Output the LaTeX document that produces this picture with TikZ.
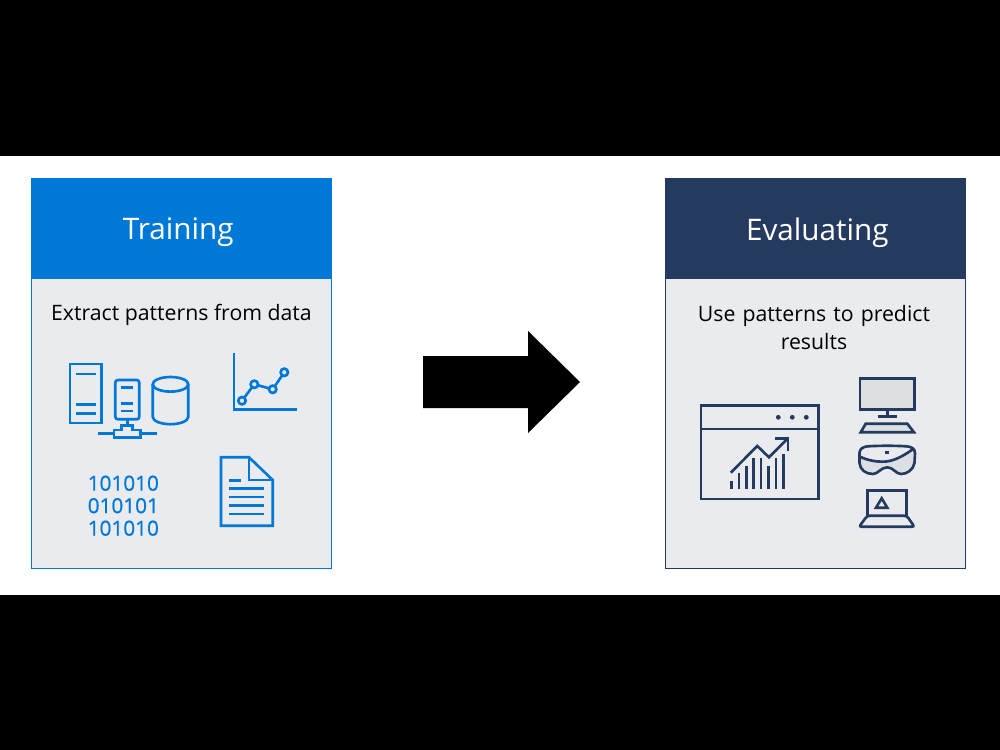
\documentclass[tikz,border=0pt]{standalone}
\usepackage{fontspec}
\setmainfont{Open Sans}
\usetikzlibrary{positioning}
\definecolor{trainblue}{HTML}{0078D7}
\definecolor{evalnavy}{HTML}{243A5E}
\definecolor{bodygrey}{HTML}{E9EBEF}
\definecolor{screengrey}{HTML}{DCE0E2}
\tikzstyle{header} = [rectangle, minimum width=6.02cm, minimum height=2.02cm, inner sep=0pt, text=white, text depth=0pt, font=\fontsize{16.9}{20}\selectfont, anchor=north west]
\tikzstyle{bodybox} = [rectangle, minimum width=6cm, minimum height=5.8cm, inner sep=0pt, fill=bodygrey, line width=0.6pt, anchor=north west]
\tikzstyle{caption} = [font=\fontsize{12.1}{16.2}\selectfont, align=center, text=black]
\tikzstyle{blueicon} = [draw=trainblue, line width=1.5pt]
\tikzstyle{navyicon} = [draw=evalnavy, line width=1.5pt]

\begin{document}
\begin{tikzpicture}[x=0.02cm, y=-0.02cm]
    \useasboundingbox (0,0) rectangle (1000,750);
    \fill[white] (0,0) rectangle (1000,750);
    \fill[black] (0,0) rectangle (1000,156);
    \fill[black] (0,595) rectangle (1000,750);

    % boxes
    \node (trainbody) [bodybox, draw=trainblue] at (31.2,278) {};
    \node (training) [header, fill=trainblue] at (31,178) {\hspace*{-0.14cm}Training};
    \node (evalbody) [bodybox, draw=evalnavy] at (665.2,278) {};
    \node (evaluating) [header, fill=evalnavy] at (665,178) {\hspace*{0.06cm}Evaluating};
    \node (traintext) [caption] at (181.5,314.5) {Extract patterns from data};
    \node (evaltext) [caption, text width=5.2cm] at (814,327.5) {Use patterns to predict\\ results};

    % big arrow
    \fill[black] (423,356) -- (528,356) -- (528,331) -- (580,382) -- (528,433) -- (528,408) -- (423,408) -- cycle;

    % servers
    \draw[blueicon] (70,364) rectangle (101.7,423);
    \draw[blueicon] (76,374) -- (95.7,374) (76,404.7) -- (95.7,404.7) (76,413.3) -- (95.7,413.3);
    \draw[blueicon, rounded corners=1.5pt] (115.3,380) rectangle (139.3,419.3);
    \draw[blueicon] (121,387.7) -- (133.3,387.7) (121,403.3) -- (133.3,403.3) (121,411) -- (133.3,411);
    \draw[blueicon] (127.3,419.3) -- (127.3,425.3);
    \draw[blueicon] (114,437.7) -- (140.7,437.7) -- (140.7,430) -- (132.7,430) -- (132.7,425.3) -- (121.7,425.3) -- (121.7,430) -- (114,430) -- cycle;
    \draw[blueicon] (98.3,433.7) -- (114,433.7) (140.7,433.7) -- (156.7,433.7);

    % cylinder
    \draw[blueicon] (170.5,384.3) ellipse [x radius=17.8, y radius=7.3];
    \draw[blueicon] (152.7,384.3) -- (152.7,416.7) .. controls (152.7,421.5) and (162,424.2) .. (170.5,424.2) .. controls (179,424.2) and (188.3,421.5) .. (188.3,416.7) -- (188.3,384.3);

    % line chart
    \draw[blueicon] (234,353.3) -- (234,409.3) -- (296.7,409.3);
    \draw[blueicon] (242,400.7) -- (254.3,384.3) -- (272.7,389.3) -- (284.3,372.3);
    \foreach \px/\py in {242/400.7, 254.3/384.3, 272.7/389.3, 284.3/372.3}
        \draw[blueicon, fill=bodygrey] (\px,\py) circle [radius=3.7];

    % binary digits
    \node (binary) [text=trainblue, font=\fontsize{11.8}{12.8}\selectfont\addfontfeature{FakeBold=0.6}, align=center, inner sep=0pt] at (123.3,505.7) {101010\\010101\\101010};

    % document
    \draw[blueicon] (221,457.3) -- (249,457.3) -- (272.7,480) -- (272.7,525.7) -- (221,525.7) -- cycle;
    \draw[blueicon] (249,457.3) -- (249,480) -- (272.7,480);
    \draw[blueicon] (229.3,480.3) -- (241,480.3);
    \draw[blueicon] (229.3,488.7) -- (264,488.7) (229.3,497) -- (264,497) (229.3,505.7) -- (264,505.7) (229.3,514) -- (264,514);

    % window with trend
    \draw[navyicon] (701,405.7) rectangle (818.3,499);
    \draw[navyicon] (701,429) -- (818.3,429);
    \foreach \px in {778.3, 792.3, 806.3}
        \fill[evalnavy] (\px,417.3) circle [radius=2.4];
    \draw[navyicon] (730.7,472.7) -- (757.3,446) -- (769,457.3) -- (787.3,439);
    \draw[navyicon] (775,438.3) -- (788,438.3) -- (788,451);
    \foreach \px/\py in {731.7/480.7, 739/473.3, 746.3/465.7, 753.7/458.3, 761/458.3, 768.7/465.7, 776/458.3, 783.3/454.3}
        \draw[navyicon] (\px,\py) -- (\px,489.3);

    % monitor
    \draw[navyicon, fill=screengrey] (860,378.3) rectangle (914.7,409.3);
    \draw[navyicon] (887.3,409.3) -- (887.3,416.3) (877.7,416.3) -- (896.7,416.3);
    \draw[navyicon, fill=screengrey] (865.7,423.7) -- (907.3,423.7) -- (914,432.3) -- (860.7,432.3) -- cycle;

    % headset
    \fill[screengrey] (860,456.7) .. controls (868,460.5) and (876,461.7) .. (883,461.7) .. controls (894,461.7) and (905,455) .. (914,448.3) -- (914.5,463) .. controls (913,470) and (907,474) .. (901,474) .. controls (896,474) and (893,467.3) .. (887.3,467.3) .. controls (881,467.3) and (878,474) .. (873,474) .. controls (866,474) and (860,470) .. (859.5,463) -- cycle;
    \draw[navyicon] (860,456.7) .. controls (868,460.5) and (876,461.7) .. (883,461.7) .. controls (894,461.7) and (905,455) .. (914,448.3);
    \draw[navyicon] (859.5,453) .. controls (859.5,448.5) and (864,446.5) .. (868,446.3) .. controls (880,445.6) and (895,445.6) .. (906,446.3) .. controls (911,446.5) and (915,448.5) .. (915,453) -- (914.5,463) .. controls (913,470) and (907,474) .. (901,474) .. controls (896,474) and (893,467.3) .. (887.3,467.3) .. controls (881,467.3) and (878,474) .. (873,474) .. controls (866,474) and (860,470) .. (859.5,463) -- cycle;
    \draw[navyicon] (885.3,452.7) -- (889.3,452.7);

    % laptop
    \draw[navyicon] (867.3,515.7) -- (867.3,490.3) -- (906.7,490.3) -- (906.7,515.7);
    \draw[navyicon, rounded corners=1.5pt] (867.3,515.7) -- (906.7,515.7) -- (914.5,526.8) -- (859,526.8) -- cycle;
    \draw[navyicon] (881.7,498.3) -- (887.3,507.7) -- (876,507.7) -- cycle;
\end{tikzpicture}
\end{document}
